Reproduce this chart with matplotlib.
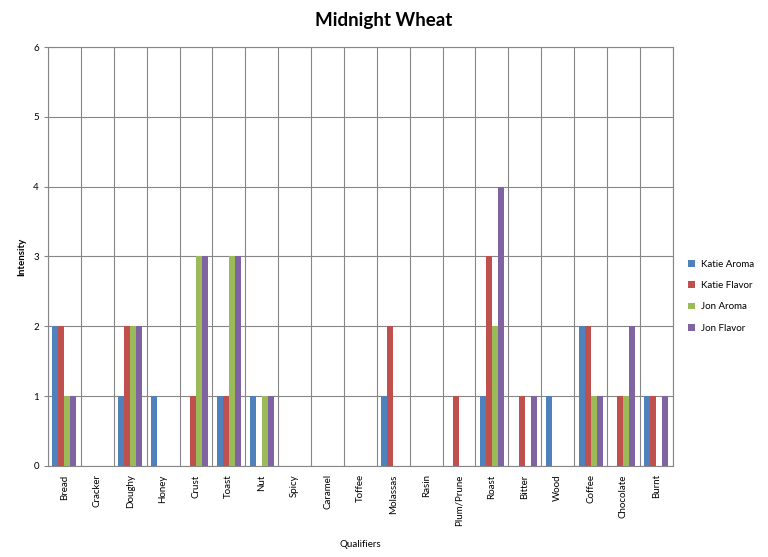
import matplotlib
matplotlib.use("Agg")
import matplotlib.pyplot as plt
import numpy as np

categories = ["Bread", "Cracker", "Doughy", "Honey", "Crust", "Toast", "Nut", "Spicy",
              "Caramel", "Toffee", "Molassas", "Rasin", "Plum/Prune", "Roast", "Bitter",
              "Wood", "Coffee", "Chocolate", "Burnt"]
katie_aroma  = [2, 0, 1, 1, 0, 1, 1, 0, 0, 0, 1, 0, 0, 1, 0, 1, 2, 0, 1]
katie_flavor = [2, 0, 2, 0, 1, 1, 0, 0, 0, 0, 2, 0, 1, 3, 1, 0, 2, 1, 1]
jon_aroma    = [1, 0, 2, 0, 3, 3, 1, 0, 0, 0, 0, 0, 0, 2, 0, 0, 1, 1, 0]
jon_flavor   = [1, 0, 2, 0, 3, 3, 1, 0, 0, 0, 0, 0, 0, 4, 1, 0, 1, 2, 1]
series_names = ["Katie Aroma", "Katie Flavor", "Jon Aroma", "Jon Flavor"]
colors = ["#4F81BD", "#C0504D", "#9BBB59", "#8064A2"]

plt.rcParams['font.family'] = ['Lato', 'DejaVu Sans']

fig = plt.figure(figsize=(7.68, 5.57), dpi=100)
ax = fig.add_axes([0.0625, 0.1634, 0.8135, 0.7522])

n = len(categories)
x = np.arange(n)
bw = 0.182
data = [katie_aroma, katie_flavor, jon_aroma, jon_flavor]
for i, (vals, name, c) in enumerate(zip(data, series_names, colors)):
    ax.bar(x + (i - 1.5) * bw, vals, width=bw, color=c, label=name, zorder=3)

ax.set_xlim(-0.5, n - 0.5)
ax.set_ylim(0, 6)
ax.set_yticks(range(0, 7))
ax.set_xticks(x)
ax.set_xticklabels(categories, rotation=90, fontsize=7)
ax.tick_params(axis='y', labelsize=7, length=3, color='#868686')
ax.tick_params(axis='x', length=0, pad=6)
for b in np.arange(-0.5, n, 1.0):
    ax.axvline(b, color='#868686', lw=0.8, zorder=1)
ax.grid(axis='y', color='#868686', lw=0.8, zorder=1)
for s in ax.spines.values():
    s.set_color('#868686')
    s.set_linewidth(0.8)

fig.suptitle("Midnight Wheat", fontsize=13.5, fontweight='bold', x=0.5, y=0.964, va='center')
ax.set_ylabel("Intensity", fontsize=7, fontweight='bold', labelpad=5)
ax.set_xlabel("Qualifiers", fontsize=7, labelpad=10)

leg = ax.legend(loc='center left', bbox_to_anchor=(1.01, 0.405), frameon=False,
                fontsize=7, handlelength=0.7, handleheight=0.7, labelspacing=1.25,
                handletextpad=0.7)

fig.savefig("out.png", dpi=100)
